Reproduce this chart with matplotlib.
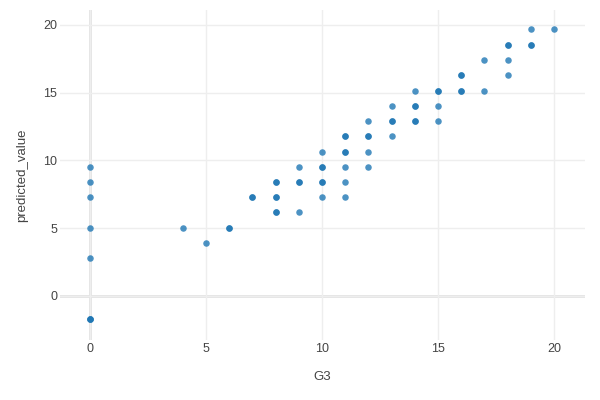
import matplotlib
matplotlib.use("Agg")
import matplotlib.pyplot as plt

plt.rcParams["font.family"] = ["Liberation Sans", "DejaVu Sans"]

# (G3, predicted_value, how many students share that point)
g3 = [0, 0, 0, 0, 0, 0,
      4, 5, 6, 7,
      8, 8, 8,
      9, 9, 9,
      10, 10, 10, 10,
      11, 11, 11, 11, 11,
      12, 12, 12, 12,
      13, 13, 13,
      14, 14, 14,
      15, 15, 15,
      16, 16,
      17, 17,
      18, 18, 18,
      19, 19,
      20]
predicted = [9.5, 8.4, 7.3, 5.0, 2.8, -1.7,
             5.0, 3.9, 5.0, 7.3,
             8.4, 7.3, 6.2,
             9.5, 8.4, 6.2,
             10.6, 9.5, 8.4, 7.3,
             11.8, 10.6, 9.5, 8.4, 7.3,
             12.9, 11.8, 10.6, 9.5,
             14.0, 12.9, 11.8,
             15.1, 14.0, 12.9,
             15.1, 14.0, 12.9,
             16.3, 15.1,
             17.4, 15.1,
             18.5, 17.4, 16.3,
             19.7, 18.5,
             19.7]
counts = [1, 1, 1, 1, 1, 3,
          1, 1, 2, 2,
          2, 2, 2,
          1, 2, 1,
          1, 2, 2, 1,
          2, 2, 1, 1, 1,
          1, 2, 1, 1,
          1, 2, 1,
          1, 2, 2,
          2, 1, 1,
          2, 2,
          1, 1,
          2, 1, 1,
          1, 2,
          1]

xs, ys = [], []
for x, y, n in zip(g3, predicted, counts):
    xs += [x] * n
    ys += [y] * n

fig = plt.figure(figsize=(6, 4), dpi=100)
ax = fig.add_axes([0.1, 0.15, 0.875, 0.825])

ax.scatter(xs, ys, s=22, color="#1f77b4", alpha=0.8, linewidths=0, zorder=3)

ax.set_xlim(-1.29, 21.34)
ax.set_ylim(-3.25, 21.1)
ax.set_xticks([0, 5, 10, 15, 20])
ax.set_yticks([0, 5, 10, 15, 20])
ax.grid(True, color="#eeeeee", linewidth=1, zorder=0)
ax.axvline(0, color="#e2e2e2", linewidth=2, zorder=1)
ax.axhline(0, color="#e2e2e2", linewidth=2, zorder=1)

for s in ax.spines.values():
    s.set_visible(False)
ax.tick_params(length=0, labelsize=9, colors="#444444", pad=2)
ax.set_xlabel("G3", fontsize=9.5, color="#444444", labelpad=12)
ax.set_ylabel("predicted_value", fontsize=9.5, color="#444444", labelpad=11)

fig.savefig("out.png", dpi=100)
